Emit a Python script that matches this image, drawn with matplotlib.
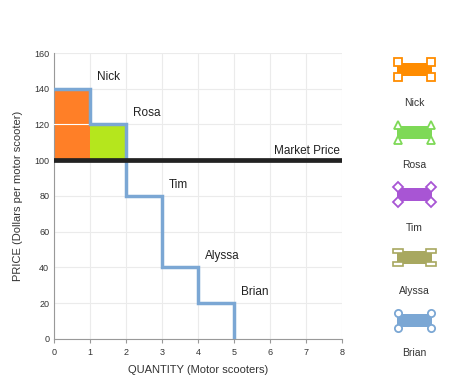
import matplotlib.pyplot as plt
from matplotlib.patches import Rectangle

plt.rcParams['font.family'] = ['Liberation Sans', 'DejaVu Sans']

# supply steps: each seller's price for one scooter
sellers = ['Nick', 'Rosa', 'Tim', 'Alyssa', 'Brian']
prices = [140, 120, 80, 40, 20]
market_price = 100
colors = ['#FF8C00', '#7ED957', '#A855D4', '#A8A860', '#7BA7D4']
markers = ['s', '^', 'D', 's', 'o']
surplus_colors = ['#FF7F27', '#B5E61D']
line_color = '#7BA7D4'

fig = plt.figure(figsize=(4.74, 3.8), dpi=100)
ax = fig.add_axes([0.114, 0.108, 0.6075, 0.7525])

# producer surplus boxes
for i, p in enumerate(prices):
    if p > market_price:
        ax.add_patch(Rectangle((i, market_price), 1, p - market_price,
                               facecolor=surplus_colors[i], edgecolor='none', zorder=2))
        if i == 0:
            ax.plot([0, 1], [prices[1], prices[1]], color='white', lw=0.8, zorder=3)

# step supply curve
xs, ys = [0], [prices[0]]
for i, p in enumerate(prices):
    xs += [i, i + 1]
    ys += [p, p]
xs.append(len(prices))
ys.append(0)
ax.plot(xs, ys, color=line_color, lw=2.5, zorder=4, solid_joinstyle='miter')

ax.plot([0, 8], [market_price, market_price], color='#222222', lw=3.4, zorder=5)
ax.text(7.95, market_price + 2, 'Market Price', ha='right', va='bottom',
        fontsize=8.5, color='#222222')

for i, (name, p) in enumerate(zip(sellers, prices)):
    ax.text(i + 1.2, p + 3, name, ha='left', va='bottom', fontsize=8.5, color='#222222')

ax.set_xlim(0, 8)
ax.set_ylim(0, 160)
ax.set_xticks(range(0, 9))
ax.set_yticks(range(0, 161, 20))
ax.grid(color='#EBEBEB', lw=0.8, zorder=0)
ax.set_axisbelow(True)
for s in ['top', 'right']:
    ax.spines[s].set_visible(False)
for s in ['left', 'bottom']:
    ax.spines[s].set_color('#999999')
ax.tick_params(axis='both', labelsize=6.5, colors='#333333', length=3, color='#999999')
ax.tick_params(axis='y', length=0)
ax.set_xlabel('QUANTITY (Motor scooters)', fontsize=8, color='#333333', labelpad=6)
ax.set_ylabel('PRICE (Dollars per motor scooter)', fontsize=8, color='#333333', labelpad=8)

# legend drawn in pixel coordinates
leg = fig.add_axes([0, 0, 1, 1], facecolor='none')
leg.set_xlim(0, 474)
leg.set_ylim(380, 0)
leg.axis('off')
for k, (name, c, m) in enumerate(zip(sellers, colors, markers)):
    cy = 69.5 + k * 62.7
    leg.add_patch(Rectangle((397, cy - 6.5), 35, 13, facecolor=c, edgecolor='none'))
    if k == 3:
        for dx in (398, 431):
            for dy in (cy - 6.5, cy + 6.5):
                leg.add_patch(Rectangle((dx - 5, dy - 2), 10, 4, facecolor='white',
                                        edgecolor=c, lw=1.2))
    else:
        leg.plot([398, 431, 398, 431], [cy - 7.5, cy - 7.5, cy + 7.5, cy + 7.5], ls='none',
                 marker=m, ms=5.2, mfc='white', mec=c, mew=1.3)
    leg.text(414, cy + 33, name, ha='center', va='center', fontsize=7.5, color='#333333')

fig.savefig('out.png', dpi=100)
